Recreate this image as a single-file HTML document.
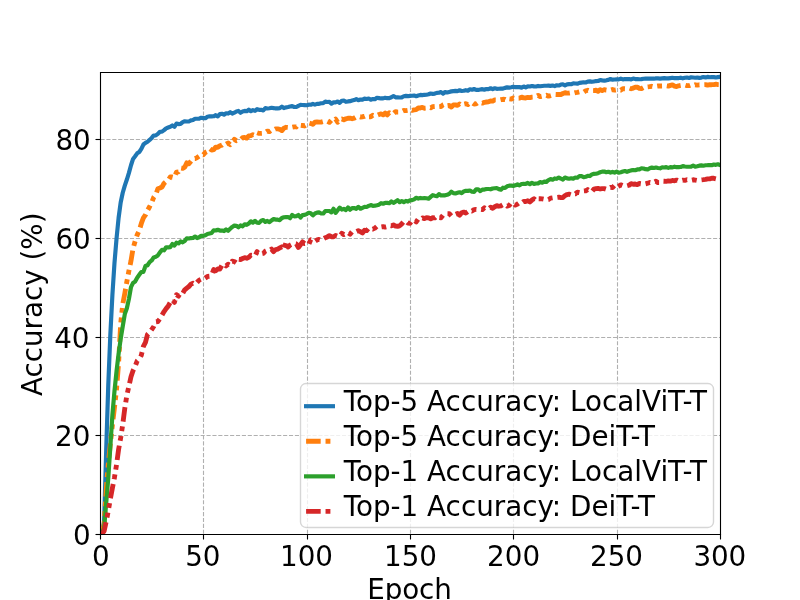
<!DOCTYPE html>
<html lang="en"><head><meta charset="utf-8"><title>Accuracy vs Epoch</title>
<style>html,body{margin:0;padding:0;background:#fff;overflow:hidden}svg{display:block}text{font-family:"DejaVu Sans","Liberation Sans",sans-serif;font-size:27.7778px;fill:#000}</style></head><body>
<svg width="800" height="600" viewBox="0 0 800 600">
<rect width="800" height="600" fill="#fff"/>
<clipPath id="ax"><rect x="100" y="72" width="620" height="462"/></clipPath>
<g stroke="#b0b0b0" stroke-width="1.1111" stroke-dasharray="4.11 1.78" fill="none"><path d="M203.5 533.8V72"/><path d="M307.5 533.8V72"/><path d="M410.5 533.8V72"/><path d="M513.5 533.8V72"/><path d="M617.5 533.8V72"/><path d="M100.5 435.5H720"/><path d="M100.5 337.5H720"/><path d="M100.5 238.5H720"/><path d="M100.5 139.5H720"/></g>
<g clip-path="url(#ax)"><polyline points="100.00,534.00 102.07,533.00 104.13,521.97 106.20,450.00 108.27,385.09 110.33,334.93 112.40,295.00 114.47,263.04 116.53,238.64 118.60,217.86 120.67,202.50 122.73,192.79 124.80,185.63 126.87,179.51 128.93,172.89 131.00,165.25 133.07,158.94 135.13,156.30 137.20,153.34 139.27,151.97 141.33,148.91 143.40,144.52 145.47,142.92 147.53,141.74 149.60,139.92 151.67,137.91 153.73,135.46 155.80,135.35 157.87,133.89 159.93,131.75 162.00,131.68 164.07,130.15 166.13,128.32 168.20,127.46 170.27,126.76 172.33,125.45 174.40,126.78 176.47,123.53 178.53,124.06 180.60,123.88 182.67,122.09 184.73,121.30 186.80,121.54 188.87,121.49 190.93,120.38 193.00,120.02 195.07,118.71 197.13,118.74 199.20,118.70 201.27,117.73 203.33,118.14 205.40,118.16 207.47,116.78 209.53,116.33 211.60,116.38 213.67,116.28 215.73,115.21 217.80,116.46 219.87,114.05 221.93,113.76 224.00,114.69 226.07,113.27 228.13,113.56 230.20,112.18 232.27,113.62 234.33,112.67 236.40,111.44 238.47,110.95 240.53,112.77 242.60,111.56 244.67,110.87 246.73,111.26 248.80,109.74 250.87,111.26 252.93,110.14 255.00,110.81 257.07,109.13 259.13,109.80 261.20,109.80 263.27,110.40 265.33,108.13 267.40,108.48 269.47,108.25 271.53,107.80 273.60,108.06 275.67,108.43 277.73,108.31 279.80,108.10 281.87,106.60 283.93,108.08 286.00,107.36 288.07,107.00 290.13,106.48 292.20,106.08 294.27,106.96 296.33,107.04 298.40,105.84 300.47,104.93 302.53,105.00 304.60,105.11 306.67,105.22 308.73,104.66 310.80,104.76 312.87,103.93 314.93,104.64 317.00,103.89 319.07,103.81 321.13,103.21 323.20,103.17 325.27,101.63 327.33,102.01 329.40,101.80 331.47,103.59 333.53,102.41 335.60,102.36 337.67,101.52 339.73,102.90 341.80,100.78 343.87,100.66 345.93,101.80 348.00,101.44 350.07,101.17 352.13,100.53 354.20,100.03 356.27,99.09 358.33,100.16 360.40,99.47 362.47,99.64 364.53,98.60 366.60,98.99 368.67,98.49 370.73,99.65 372.80,99.02 374.87,99.19 376.93,97.79 379.00,98.09 381.07,98.45 383.13,98.37 385.20,97.72 387.27,98.18 389.33,98.14 391.40,97.24 393.47,96.04 395.53,97.30 397.60,97.30 399.67,97.46 401.73,97.38 403.80,96.25 405.87,95.92 407.93,96.18 410.00,95.83 412.07,95.75 414.13,95.55 416.20,96.18 418.27,95.44 420.33,94.94 422.40,95.17 424.47,94.80 426.53,94.76 428.60,94.31 430.67,93.51 432.73,93.92 434.80,93.58 436.87,92.89 438.93,92.76 441.00,92.03 443.07,93.64 445.13,92.00 447.20,92.43 449.27,91.92 451.33,91.38 453.40,91.07 455.47,90.90 457.53,91.13 459.60,90.28 461.67,91.00 463.73,90.78 465.80,90.19 467.87,90.67 469.93,89.29 472.00,89.68 474.07,89.02 476.13,89.89 478.20,89.93 480.27,89.55 482.33,89.17 484.40,89.63 486.47,89.06 488.53,89.11 490.60,88.25 492.67,89.11 494.73,88.22 496.80,88.80 498.87,88.79 500.93,88.54 503.00,88.59 505.07,87.88 507.13,87.36 509.20,87.59 511.27,87.27 513.33,86.72 515.40,87.17 517.47,87.08 519.53,87.16 521.60,87.60 523.67,86.52 525.73,87.43 527.80,86.35 529.87,86.52 531.93,85.96 534.00,86.33 536.07,86.52 538.13,85.95 540.20,86.21 542.27,85.96 544.33,85.78 546.40,85.75 548.47,85.68 550.53,85.83 552.60,85.49 554.67,86.12 556.73,85.26 558.80,85.52 560.87,84.53 562.93,84.31 565.00,85.29 567.07,84.31 569.13,84.17 571.20,84.25 573.27,83.43 575.33,83.52 577.40,83.70 579.47,82.91 581.53,82.60 583.60,82.26 585.67,82.47 587.73,81.62 589.80,81.37 591.87,81.81 593.93,81.44 596.00,81.05 598.07,81.01 600.13,80.05 602.20,80.36 604.27,80.57 606.33,80.32 608.40,79.92 610.47,79.03 612.53,79.68 614.60,79.48 616.67,79.27 618.73,79.38 620.80,78.62 622.87,79.42 624.93,78.99 627.00,79.13 629.07,78.96 631.13,79.45 633.20,78.56 635.27,79.08 637.33,79.00 639.40,79.25 641.47,79.16 643.53,78.76 645.60,78.61 647.67,78.64 649.73,78.48 651.80,78.57 653.87,78.70 655.93,78.44 658.00,78.45 660.07,78.58 662.13,78.31 664.20,78.11 666.27,78.32 668.33,78.41 670.40,78.08 672.47,77.74 674.53,78.20 676.60,78.11 678.67,78.07 680.73,77.69 682.80,78.36 684.87,77.79 686.93,77.55 689.00,77.95 691.07,77.38 693.13,77.54 695.20,77.73 697.27,77.52 699.33,77.84 701.40,77.58 703.47,77.02 705.53,77.54 707.60,76.92 709.67,77.27 711.73,77.00 713.80,77.14 715.87,77.54 717.93,77.16 720.00,76.96" fill="none" stroke="#1f77b4" stroke-width="4.167" stroke-linejoin="round" stroke-linecap="square"/>
<polyline points="100.00,534.00 102.07,533.00 104.13,523.98 106.20,490.00 108.27,464.04 110.33,443.97 112.40,425.00 114.47,407.54 116.53,389.23 118.60,362.76 120.67,323.92 122.73,304.29 124.80,293.37 126.87,281.53 128.93,270.72 131.00,260.81 133.07,248.29 135.13,241.21 137.20,234.88 139.27,230.52 141.33,223.45 143.40,217.93 145.47,214.96 147.53,210.41 149.60,206.76 151.67,202.58 153.73,197.28 155.80,194.64 157.87,188.73 159.93,187.97 162.00,186.98 164.07,183.27 166.13,181.52 168.20,180.53 170.27,176.91 172.33,176.98 174.40,177.51 176.47,172.09 178.53,171.80 180.60,168.06 182.67,168.40 184.73,167.19 186.80,162.88 188.87,163.85 190.93,161.17 193.00,158.61 195.07,158.61 197.13,157.57 199.20,156.20 201.27,154.35 203.33,154.81 205.40,152.35 207.47,151.31 209.53,148.57 211.60,150.11 213.67,149.67 215.73,147.13 217.80,147.30 219.87,145.78 221.93,145.10 224.00,143.31 226.07,144.27 228.13,142.99 230.20,144.60 232.27,142.31 234.33,139.33 236.40,140.76 238.47,140.13 240.53,139.99 242.60,137.67 244.67,137.45 246.73,138.15 248.80,135.84 250.87,135.67 252.93,134.66 255.00,135.44 257.07,132.70 259.13,133.43 261.20,133.42 263.27,133.30 265.33,132.57 267.40,131.08 269.47,131.66 271.53,129.96 273.60,129.98 275.67,128.84 277.73,128.90 279.80,129.28 281.87,130.56 283.93,128.14 286.00,127.30 288.07,127.47 290.13,126.72 292.20,127.27 294.27,126.81 296.33,126.95 298.40,124.51 300.47,125.25 302.53,125.50 304.60,125.94 306.67,124.58 308.73,122.88 310.80,123.50 312.87,124.32 314.93,122.17 317.00,121.95 319.07,122.12 321.13,122.06 323.20,121.49 325.27,121.76 327.33,121.28 329.40,122.35 331.47,120.07 333.53,120.87 335.60,119.01 337.67,122.22 339.73,119.53 341.80,118.98 343.87,119.80 345.93,118.81 348.00,118.24 350.07,118.08 352.13,118.73 354.20,118.09 356.27,116.82 358.33,116.31 360.40,117.02 362.47,116.75 364.53,116.36 366.60,115.38 368.67,116.84 370.73,116.79 372.80,115.30 374.87,116.03 376.93,115.32 379.00,114.48 381.07,113.87 383.13,114.85 385.20,113.03 387.27,114.83 389.33,112.65 391.40,114.07 393.47,113.51 395.53,111.65 397.60,112.17 399.67,112.16 401.73,111.56 403.80,110.52 405.87,110.62 407.93,110.31 410.00,109.17 412.07,110.29 414.13,109.83 416.20,109.61 418.27,108.05 420.33,107.95 422.40,107.48 424.47,108.26 426.53,108.11 428.60,107.11 430.67,107.82 432.73,106.66 434.80,106.52 436.87,107.36 438.93,106.67 441.00,106.47 443.07,104.87 445.13,104.02 447.20,105.79 449.27,105.49 451.33,106.95 453.40,104.91 455.47,104.86 457.53,105.42 459.60,103.87 461.67,105.36 463.73,104.19 465.80,103.74 467.87,104.54 469.93,102.86 472.00,102.54 474.07,104.06 476.13,103.89 478.20,102.30 480.27,102.55 482.33,103.17 484.40,102.35 486.47,102.02 488.53,101.84 490.60,100.98 492.67,101.06 494.73,99.91 496.80,99.95 498.87,100.18 500.93,99.68 503.00,99.29 505.07,99.46 507.13,100.48 509.20,98.90 511.27,99.18 513.33,97.97 515.40,98.73 517.47,98.25 519.53,98.18 521.60,97.13 523.67,97.88 525.73,97.96 527.80,97.41 529.87,97.67 531.93,97.11 534.00,97.01 536.07,96.64 538.13,95.43 540.20,96.62 542.27,96.14 544.33,96.05 546.40,95.30 548.47,96.16 550.53,95.63 552.60,95.01 554.67,94.43 556.73,94.53 558.80,94.54 560.87,94.51 562.93,93.49 565.00,92.74 567.07,93.14 569.13,92.99 571.20,92.63 573.27,93.16 575.33,92.59 577.40,92.33 579.47,91.81 581.53,91.76 583.60,92.18 585.67,90.75 587.73,90.28 589.80,91.15 591.87,90.67 593.93,90.62 596.00,90.25 598.07,91.29 600.13,89.64 602.20,90.59 604.27,89.64 606.33,90.14 608.40,90.28 610.47,90.06 612.53,89.46 614.60,90.19 616.67,89.84 618.73,89.75 620.80,90.17 622.87,88.58 624.93,88.72 627.00,88.78 629.07,88.03 631.13,88.76 633.20,88.13 635.27,87.11 637.33,87.22 639.40,88.41 641.47,88.67 643.53,87.49 645.60,86.43 647.67,86.93 649.73,86.70 651.80,86.26 653.87,86.79 655.93,86.25 658.00,85.94 660.07,86.00 662.13,85.96 664.20,86.29 666.27,85.79 668.33,86.10 670.40,85.38 672.47,84.84 674.53,86.04 676.60,86.51 678.67,85.80 680.73,85.44 682.80,85.14 684.87,85.07 686.93,85.67 689.00,85.61 691.07,84.83 693.13,85.59 695.20,84.78 697.27,85.17 699.33,84.78 701.40,84.75 703.47,84.67 705.53,84.61 707.60,85.13 709.67,84.67 711.73,84.70 713.80,84.56 715.87,84.23 717.93,84.63 720.00,84.71" fill="none" stroke="#ff7f0e" stroke-width="4.861" stroke-linejoin="round" stroke-linecap="butt" stroke-dasharray="14.58 4.86 4.86 4.86 4.86 4.86"/>
<polyline points="100.00,534.00 102.07,533.50 104.13,527.99 106.20,503.00 108.27,478.04 110.33,446.95 112.40,415.00 114.47,391.23 116.53,371.17 118.60,353.82 120.67,338.94 122.73,326.34 124.80,314.07 126.87,308.28 128.93,298.85 131.00,287.09 133.07,282.94 135.13,281.56 137.20,277.66 139.27,274.84 141.33,272.01 143.40,271.84 145.47,266.04 147.53,265.24 149.60,262.20 151.67,260.47 153.73,257.42 155.80,256.77 157.87,255.48 159.93,252.34 162.00,249.83 164.07,250.30 166.13,247.27 168.20,247.35 170.27,247.19 172.33,244.02 174.40,245.60 176.47,242.70 178.53,243.38 180.60,241.43 182.67,242.34 184.73,241.07 186.80,238.27 188.87,238.53 190.93,238.08 193.00,238.03 195.07,236.57 197.13,238.03 199.20,237.24 201.27,235.71 203.33,235.90 205.40,235.20 207.47,233.96 209.53,233.46 211.60,232.96 213.67,230.40 215.73,230.53 217.80,229.76 219.87,230.56 221.93,230.57 224.00,231.07 226.07,229.44 228.13,230.79 230.20,228.75 232.27,226.89 234.33,225.56 236.40,225.81 238.47,227.28 240.53,225.45 242.60,226.37 244.67,224.29 246.73,224.86 248.80,223.46 250.87,221.32 252.93,222.67 255.00,220.87 257.07,222.73 259.13,222.89 261.20,220.82 263.27,220.05 265.33,221.99 267.40,220.96 269.47,222.11 271.53,220.46 273.60,218.97 275.67,219.57 277.73,219.68 279.80,220.15 281.87,218.00 283.93,217.21 286.00,217.07 288.07,217.07 290.13,218.27 292.20,214.91 294.27,216.40 296.33,216.16 298.40,214.98 300.47,217.53 302.53,215.14 304.60,214.90 306.67,214.08 308.73,212.81 310.80,213.36 312.87,215.30 314.93,213.52 317.00,212.67 319.07,212.41 321.13,213.48 323.20,213.54 325.27,211.09 327.33,210.99 329.40,211.04 331.47,212.38 333.53,208.75 335.60,212.93 337.67,210.24 339.73,207.65 341.80,209.53 343.87,208.93 345.93,210.05 348.00,207.45 350.07,209.73 352.13,208.08 354.20,207.99 356.27,208.88 358.33,206.86 360.40,208.76 362.47,207.83 364.53,206.95 366.60,207.00 368.67,205.86 370.73,205.08 372.80,205.81 374.87,205.63 376.93,205.21 379.00,204.66 381.07,203.20 383.13,203.74 385.20,202.80 387.27,202.90 389.33,203.25 391.40,201.44 393.47,202.86 395.53,201.68 397.60,200.14 399.67,202.17 401.73,201.03 403.80,202.13 405.87,200.96 407.93,201.56 410.00,200.31 412.07,200.18 414.13,199.32 416.20,197.78 418.27,198.58 420.33,197.95 422.40,198.23 424.47,198.08 426.53,198.25 428.60,198.73 430.67,196.84 432.73,195.20 434.80,195.81 436.87,196.28 438.93,194.12 441.00,195.46 443.07,195.23 445.13,195.34 447.20,194.77 449.27,193.83 451.33,191.67 453.40,193.11 455.47,193.45 457.53,192.81 459.60,192.23 461.67,193.15 463.73,191.46 465.80,190.80 467.87,190.89 469.93,190.47 472.00,191.74 474.07,191.87 476.13,189.39 478.20,189.36 480.27,191.18 482.33,189.66 484.40,189.59 486.47,188.99 488.53,189.02 490.60,189.30 492.67,188.52 494.73,188.26 496.80,188.12 498.87,189.12 500.93,189.63 503.00,187.71 505.07,187.99 507.13,186.32 509.20,185.68 511.27,185.70 513.33,185.87 515.40,185.29 517.47,184.28 519.53,185.36 521.60,183.98 523.67,183.90 525.73,183.98 527.80,182.95 529.87,184.19 531.93,182.83 534.00,183.84 536.07,183.46 538.13,183.37 540.20,182.08 542.27,182.64 544.33,181.59 546.40,181.92 548.47,180.05 550.53,179.11 552.60,179.72 554.67,178.44 556.73,178.81 558.80,177.55 560.87,178.66 562.93,179.53 565.00,177.49 567.07,178.34 569.13,178.71 571.20,178.27 573.27,178.62 575.33,177.50 577.40,177.76 579.47,175.97 581.53,176.15 583.60,177.19 585.67,176.76 587.73,175.78 589.80,176.04 591.87,174.45 593.93,173.86 596.00,173.75 598.07,173.18 600.13,172.28 602.20,171.61 604.27,171.50 606.33,172.24 608.40,171.75 610.47,172.57 612.53,171.92 614.60,172.60 616.67,171.65 618.73,172.59 620.80,172.29 622.87,171.60 624.93,171.07 627.00,171.79 629.07,171.03 631.13,170.38 633.20,170.01 635.27,170.21 637.33,169.44 639.40,169.33 641.47,168.27 643.53,168.46 645.60,169.18 647.67,169.43 649.73,168.23 651.80,167.61 653.87,167.95 655.93,167.52 658.00,168.02 660.07,168.30 662.13,167.28 664.20,167.46 666.27,167.12 668.33,167.90 670.40,167.14 672.47,167.38 674.53,166.69 676.60,167.16 678.67,167.07 680.73,166.96 682.80,166.13 684.87,166.53 686.93,166.75 689.00,166.76 691.07,166.67 693.13,165.63 695.20,166.77 697.27,166.31 699.33,165.66 701.40,165.37 703.47,165.74 705.53,165.29 707.60,165.18 709.67,164.98 711.73,165.17 713.80,164.49 715.87,164.83 717.93,164.24 720.00,164.95" fill="none" stroke="#2ca02c" stroke-width="4.167" stroke-linejoin="round" stroke-linecap="square"/>
<polyline points="100.00,534.00 102.07,533.80 104.13,530.99 106.20,521.50 108.27,511.02 110.33,498.98 112.40,488.00 114.47,477.45 116.53,464.77 118.60,449.36 120.67,437.93 122.73,424.47 124.80,408.27 126.87,395.25 128.93,386.12 131.00,376.80 133.07,370.60 135.13,366.32 137.20,360.82 139.27,358.80 141.33,355.21 143.40,346.30 145.47,342.30 147.53,334.45 149.60,332.35 151.67,329.57 153.73,326.49 155.80,321.80 157.87,321.51 159.93,318.80 162.00,315.10 164.07,311.54 166.13,308.62 168.20,306.17 170.27,302.33 172.33,299.72 174.40,302.34 176.47,294.66 178.53,296.10 180.60,292.64 182.67,293.32 184.73,289.87 186.80,288.12 188.87,286.56 190.93,284.14 193.00,283.24 195.07,284.40 197.13,282.21 199.20,280.09 201.27,279.13 203.33,279.39 205.40,278.03 207.47,276.45 209.53,276.23 211.60,274.95 213.67,269.62 215.73,270.85 217.80,268.91 219.87,268.96 221.93,265.34 224.00,263.95 226.07,265.87 228.13,264.23 230.20,265.25 232.27,261.20 234.33,261.54 236.40,263.02 238.47,259.33 240.53,259.55 242.60,258.54 244.67,257.71 246.73,258.24 248.80,257.34 250.87,255.18 252.93,255.47 255.00,256.09 257.07,251.65 259.13,254.02 261.20,253.90 263.27,253.49 265.33,251.10 267.40,250.14 269.47,250.50 271.53,249.11 273.60,251.58 275.67,249.56 277.73,249.12 279.80,247.97 281.87,246.82 283.93,249.54 286.00,242.45 288.07,247.07 290.13,245.06 292.20,244.00 294.27,243.53 296.33,243.86 298.40,247.41 300.47,244.67 302.53,241.92 304.60,243.60 306.67,243.33 308.73,244.51 310.80,239.60 312.87,240.05 314.93,241.35 317.00,239.96 319.07,239.48 321.13,240.30 323.20,238.82 325.27,237.73 327.33,236.93 329.40,235.63 331.47,236.71 333.53,236.87 335.60,235.39 337.67,236.22 339.73,236.54 341.80,233.22 343.87,234.63 345.93,233.59 348.00,232.53 350.07,234.19 352.13,231.67 354.20,231.47 356.27,231.70 358.33,230.70 360.40,231.64 362.47,232.94 364.53,230.29 366.60,230.64 368.67,228.20 370.73,228.55 372.80,229.14 374.87,228.16 376.93,226.37 379.00,226.33 381.07,226.93 383.13,226.57 385.20,227.08 387.27,226.59 389.33,225.43 391.40,225.86 393.47,224.97 395.53,226.11 397.60,226.26 399.67,225.81 401.73,223.91 403.80,221.46 405.87,221.15 407.93,223.11 410.00,223.29 412.07,220.31 414.13,220.28 416.20,221.89 418.27,218.88 420.33,219.47 422.40,217.88 424.47,218.57 426.53,217.63 428.60,217.88 430.67,218.88 432.73,217.76 434.80,217.88 436.87,215.94 438.93,217.51 441.00,217.72 443.07,215.07 445.13,214.25 447.20,213.61 449.27,213.64 451.33,215.96 453.40,214.79 455.47,214.30 457.53,213.42 459.60,215.22 461.67,212.72 463.73,212.09 465.80,212.98 467.87,211.58 469.93,210.18 472.00,210.97 474.07,209.65 476.13,209.35 478.20,209.60 480.27,209.29 482.33,209.67 484.40,207.77 486.47,209.06 488.53,208.91 490.60,207.22 492.67,208.19 494.73,206.72 496.80,205.73 498.87,206.24 500.93,205.81 503.00,204.66 505.07,204.42 507.13,206.11 509.20,205.51 511.27,202.75 513.33,203.25 515.40,205.11 517.47,204.10 519.53,202.54 521.60,203.08 523.67,201.47 525.73,201.48 527.80,200.80 529.87,201.92 531.93,200.08 534.00,198.65 536.07,200.73 538.13,198.69 540.20,198.74 542.27,198.82 544.33,199.24 546.40,200.00 548.47,199.62 550.53,198.13 552.60,197.79 554.67,197.41 556.73,197.38 558.80,197.12 560.87,197.64 562.93,197.51 565.00,195.58 567.07,194.54 569.13,194.15 571.20,194.86 573.27,193.60 575.33,193.87 577.40,192.21 579.47,192.71 581.53,191.68 583.60,190.97 585.67,190.78 587.73,189.58 589.80,191.12 591.87,191.65 593.93,189.17 596.00,188.63 598.07,188.40 600.13,188.98 602.20,188.57 604.27,188.60 606.33,189.29 608.40,188.47 610.47,187.34 612.53,187.54 614.60,185.32 616.67,187.16 618.73,186.11 620.80,184.85 622.87,185.74 624.93,185.88 627.00,185.83 629.07,185.26 631.13,183.69 633.20,184.23 635.27,184.02 637.33,184.52 639.40,183.53 641.47,183.82 643.53,184.27 645.60,183.79 647.67,183.20 649.73,182.42 651.80,182.91 653.87,182.36 655.93,181.26 658.00,182.62 660.07,182.63 662.13,181.16 664.20,181.25 666.27,181.33 668.33,180.94 670.40,181.08 672.47,180.47 674.53,180.79 676.60,180.08 678.67,180.99 680.73,180.72 682.80,180.16 684.87,180.37 686.93,179.72 689.00,180.01 691.07,180.19 693.13,179.76 695.20,180.04 697.27,180.45 699.33,180.17 701.40,179.92 703.47,179.67 705.53,179.31 707.60,178.83 709.67,178.87 711.73,178.21 713.80,178.29 715.87,178.77 717.93,177.84 720.00,177.89" fill="none" stroke="#d62728" stroke-width="4.861" stroke-linejoin="round" stroke-linecap="butt" stroke-dasharray="14.58 4.86 4.86 4.86 4.86 4.86"/></g>
<g stroke="#000" stroke-width="1.1111" fill="none"><path d="M100.5 534V539.5"/><path d="M203.5 534V539.5"/><path d="M307.5 534V539.5"/><path d="M410.5 534V539.5"/><path d="M513.5 534V539.5"/><path d="M617.5 534V539.5"/><path d="M720.5 534V539.5"/><path d="M95.5 534.5H100"/><path d="M95.5 435.5H100"/><path d="M95.5 337.5H100"/><path d="M95.5 238.5H100"/><path d="M95.5 139.5H100"/><path d="M100.5 534.5V72.5H720.5V534.5Z" stroke-linecap="square" stroke-linejoin="miter"/></g>
<text x="100.75" y="565.6" text-anchor="middle">0</text>
<text x="202.83" y="565.6" text-anchor="middle">50</text>
<text x="306.42" y="565.6" text-anchor="middle" style="letter-spacing:-0.1px">100</text>
<text x="410.50" y="565.6" text-anchor="middle">150</text>
<text x="513.58" y="565.6" text-anchor="middle">200</text>
<text x="616.42" y="565.6" text-anchor="middle" style="letter-spacing:-0.1px">250</text>
<text x="719.75" y="565.6" text-anchor="middle" style="letter-spacing:-0.1px">300</text>
<text x="90.75" y="544.55" text-anchor="end">0</text>
<text x="90.25" y="445.88" text-anchor="end" style="letter-spacing:-0.05px">20</text>
<text x="89.50" y="347.72" text-anchor="end">40</text>
<text x="90.75" y="248.55" text-anchor="end">60</text>
<text x="90.75" y="149.89" text-anchor="end">80</text>
<text x="409.5" y="599.0" text-anchor="middle" style="letter-spacing:-0.1px">Epoch</text>
<text transform="translate(41.6 304.25) rotate(-90)" text-anchor="middle">Accuracy (%)</text>
<rect x="300.5" y="383.5" width="413" height="144" rx="5.56" ry="5.56" fill="#fff" fill-opacity="0.8" stroke="#ccc" stroke-opacity="0.8" stroke-width="1.389"/>
<path d="M306.10 406.20H332.90" stroke="#1f77b4" stroke-width="4.167" stroke-linecap="square" fill="none"/>
<text x="343.75" y="410.50">Top-5 Accuracy: LocalViT-T</text>
<path d="M306.10 441.28H333.88" stroke="#ff7f0e" stroke-width="4.861" stroke-dasharray="14.58 4.86 4.86 4.86 4.86 4.86" fill="none"/>
<text x="343.75" y="446.08">Top-5 Accuracy: DeiT-T</text>
<path d="M306.10 476.36H332.90" stroke="#2ca02c" stroke-width="4.167" stroke-linecap="square" fill="none"/>
<text x="343.75" y="481.16">Top-1 Accuracy: LocalViT-T</text>
<path d="M306.10 511.44H333.88" stroke="#d62728" stroke-width="4.861" stroke-dasharray="14.58 4.86 4.86 4.86 4.86 4.86" fill="none"/>
<text x="343.75" y="516.24">Top-1 Accuracy: DeiT-T</text>
</svg></body></html>
